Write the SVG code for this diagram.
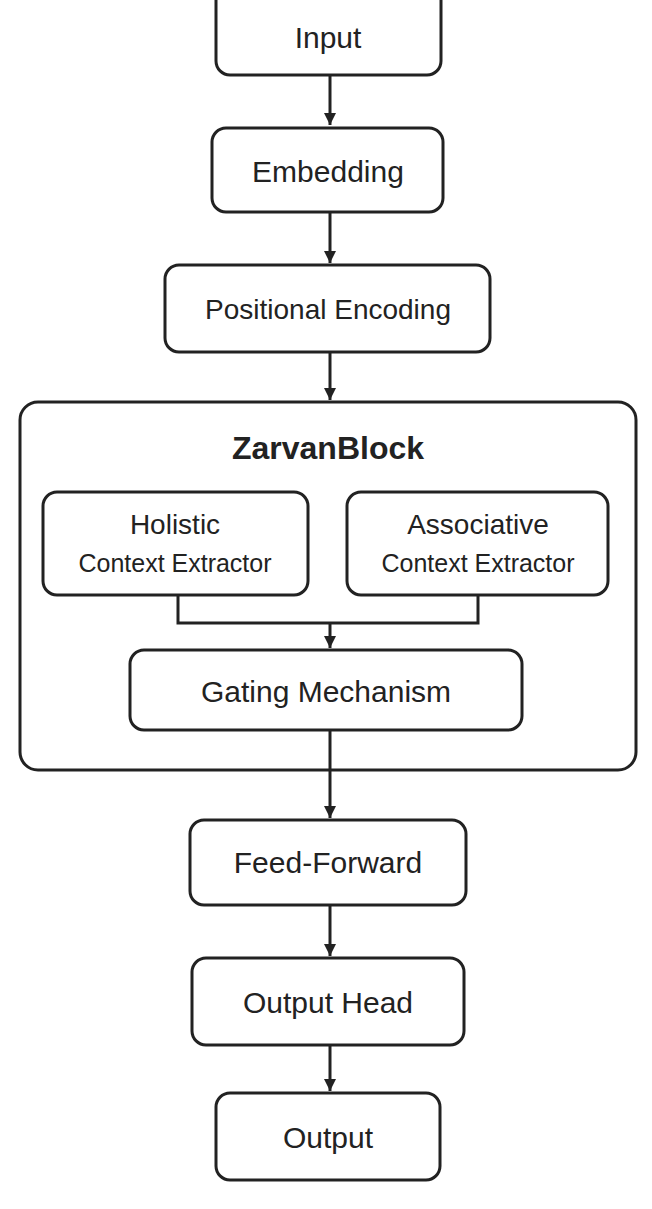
<svg xmlns="http://www.w3.org/2000/svg" width="652" height="1209" viewBox="0 0 652 1209">
<style>
.b{fill:#fff;stroke:#222;stroke-width:3}
.t{font-family:"Liberation Sans",Arial,sans-serif;font-size:30px;fill:#222;text-anchor:middle}
.s{font-size:25px}
.c{fill:none;stroke:#222;stroke-width:3}
</style>
<defs><marker id="a" viewBox="0 0 10 10" refX="10" refY="5" markerWidth="4" markerHeight="4" orient="auto"><path d="M0,0L10,5L0,10z" fill="#222"/></marker></defs>
<rect width="652" height="1209" fill="#fff"/>
<g id="input"><rect class="b" x="216" y="-20" width="225" height="95" rx="14"/><text class="t" x="328" y="48">Input</text></g>
<g id="embedding"><rect class="b" x="212" y="128" width="231" height="84" rx="14"/><text class="t" x="328" y="182">Embedding</text></g>
<g id="positional"><rect class="b" x="165" y="265" width="325" height="87" rx="14"/><text class="t" x="328" y="319" style="font-size:28px">Positional Encoding</text></g>
<g id="zarvan"><rect class="b" x="20" y="402" width="616" height="368" rx="18"/><text class="t" x="328" y="459" style="font-weight:bold;font-size:32px">ZarvanBlock</text></g>
<g id="holistic"><rect class="b" x="43" y="492" width="265" height="103" rx="14"/><text class="t" x="175" y="534" style="font-size:28px">Holistic</text><text class="t s" x="175" y="572">Context Extractor</text></g>
<g id="associative"><rect class="b" x="347" y="492" width="261" height="103" rx="14"/><text class="t" x="478" y="534" style="font-size:28px">Associative</text><text class="t s" x="478" y="572">Context Extractor</text></g>
<g id="gating"><rect class="b" x="130" y="650" width="392" height="80" rx="14"/><text class="t" x="326" y="702">Gating Mechanism</text></g>
<g id="ff"><rect class="b" x="190" y="820" width="276" height="85" rx="14"/><text class="t" x="328" y="873">Feed-Forward</text></g>
<g id="head"><rect class="b" x="192" y="958" width="272" height="87" rx="14"/><text class="t" x="328" y="1013">Output Head</text></g>
<g id="output"><rect class="b" x="216" y="1093" width="224" height="87" rx="14"/><text class="t" x="328" y="1148">Output</text></g>
<g id="connectors">
<path class="c" d="M330,75V125" marker-end="url(#a)"/>
<path class="c" d="M330,212V263" marker-end="url(#a)"/>
<path class="c" d="M330,352V400" marker-end="url(#a)"/>
<path class="c" d="M178,595V623H478V595"/>
<path class="c" d="M330,623V648" marker-end="url(#a)"/>
<path class="c" d="M330,730V818" marker-end="url(#a)"/>
<path class="c" d="M330,905V956" marker-end="url(#a)"/>
<path class="c" d="M330,1045V1091" marker-end="url(#a)"/>
</g>
</svg>
